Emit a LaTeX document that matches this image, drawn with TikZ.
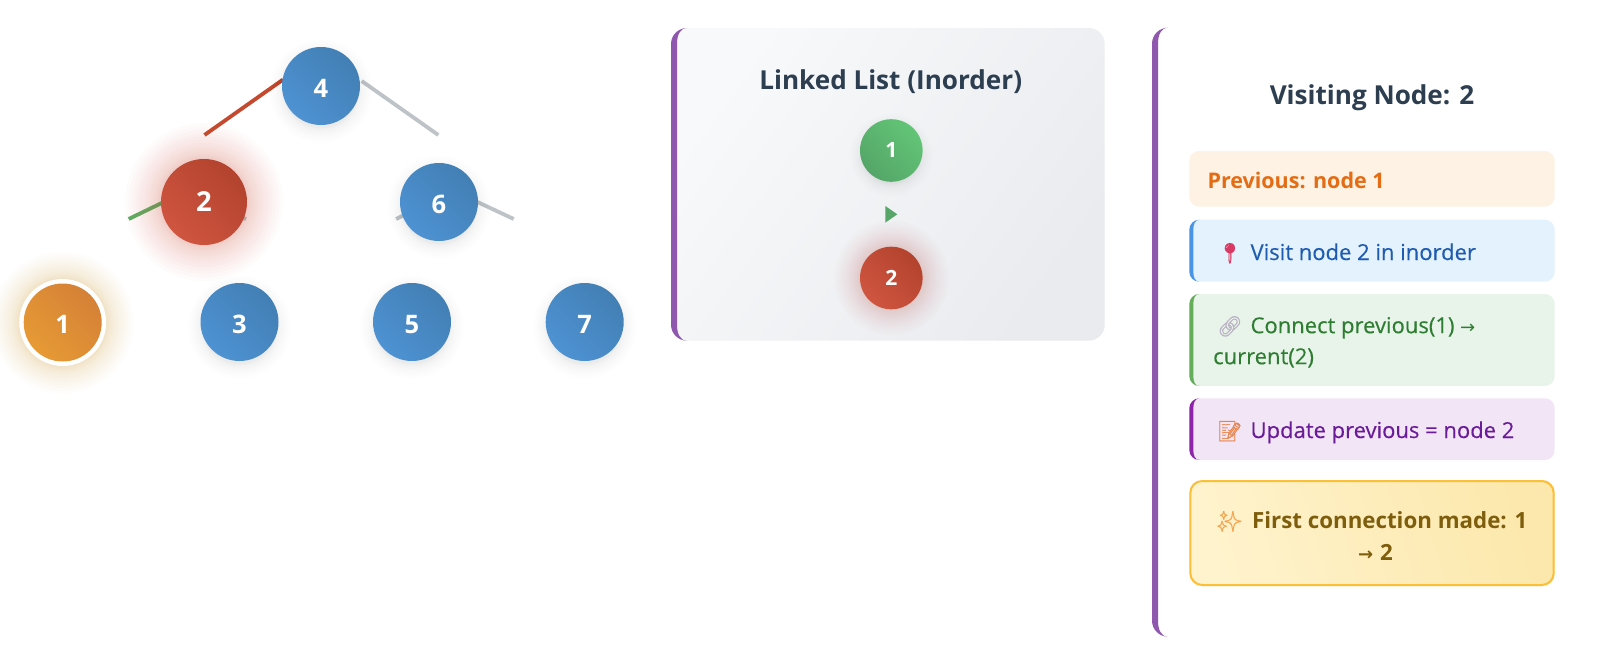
\documentclass[tikz,border=0pt]{standalone}
\usepackage{fontspec}
\setmainfont{Open Sans}
\newfontfamily\emojifont[FakeBold=0.6]{Noto Emoji}
\newfontfamily\arrowfont{DejaVu Sans}
\newfontfamily\mediumfont[FakeBold=0.25]{Open Sans}
\usetikzlibrary{calc}
\definecolor{blueA}{HTML}{4E92D3}
\definecolor{blueB}{HTML}{427FB4}
\definecolor{redA}{HTML}{CF5540}
\definecolor{redB}{HTML}{B3432E}
\definecolor{orgA}{HTML}{E69A34}
\definecolor{orgB}{HTML}{D58137}
\definecolor{grnA}{HTML}{55A668}
\definecolor{grnB}{HTML}{62C476}
\definecolor{purp}{HTML}{8F57AE}
\definecolor{edgegrey}{HTML}{BDC3C7}
\definecolor{edgered}{HTML}{C5492F}
\definecolor{edgegreen}{HTML}{5CAD63}
\definecolor{ink}{HTML}{2C3E50}
\definecolor{panelA}{HTML}{F8F9FA}
\definecolor{panelB}{HTML}{E9EBEF}
\definecolor{fillPrev}{HTML}{FDF2E3}
\definecolor{fillVisit}{HTML}{E3F2FD}
\definecolor{fillConn}{HTML}{E8F4E9}
\definecolor{fillUpd}{HTML}{F2E5F5}
\definecolor{firstA}{HTML}{FFF3CD}
\definecolor{firstB}{HTML}{FCE8AC}
\definecolor{firstEdge}{HTML}{FBBF3A}
\definecolor{barVisit}{HTML}{4A94E6}
\definecolor{barConn}{HTML}{66AD5B}
\definecolor{barUpd}{HTML}{8E24AA}
\definecolor{txtPrev}{HTML}{E36C14}
\definecolor{txtVisit}{HTML}{1F5BB0}
\definecolor{txtConn}{HTML}{2E7D32}
\definecolor{txtUpd}{HTML}{6A1B9A}
\definecolor{txtFirst}{HTML}{7E5D0C}
\definecolor{emoPin}{HTML}{D93A63}
\definecolor{emoLink}{HTML}{B9B0C4}
\definecolor{emoPad}{HTML}{E8834A}
\definecolor{emoStar}{HTML}{F7A24B}
\newcommand{\softglow}[6]{%
  \foreach \i in {1,...,20}{%
    \fill[#5,opacity=#6/20] (#1,#2) circle ({#3+#4*pow(\i/20,2)});
  }}
\newcommand{\leftbar}[6]{%
  \fill[#6] ({#1+#5},#2) .. controls ({#1+.45*#5},#2) and (#1,{#2+.45*#5}) .. (#1,{#2+#5})
    -- (#1,{#3-#5}) .. controls (#1,{#3-.45*#5}) and ({#1+.45*#5},#3) .. ({#1+#5},#3)
    .. controls ({#1+#4+.3*(#5-#4)},#3) and ({#1+#4},{#3-.45*#5}) .. ({#1+#4},{#3-#5})
    -- ({#1+#4},{#2+#5}) .. controls ({#1+#4},{#2+.45*#5}) and ({#1+#4+.3*(#5-#4)},#2) .. ({#1+#5},#2) -- cycle;}
\newcommand{\emo}[2]{\textcolor{#1}{\emojifont\fontsize{20}{20}\selectfont #2}}
\newcommand{\arr}{{\arrowfont\fontsize{18}{18}\selectfont →}}
\tikzset{
  x=1pt,y=-1pt,
  disc/.style n args={3}{circle,inner sep=0pt,minimum size=#1,text=white,left color=#2,right color=#3,shading angle=135},
  bluedisc/.style={disc={78pt}{blueA}{blueB},text height=22pt,text depth=0pt,font=\fontsize{25.5}{25.5}\selectfont\bfseries},
  edgeline/.style={line width=3.8pt,line cap=butt},
  stepfill/.style={rounded corners=10pt},
  steptext/.style={inner sep=0pt,font=\fontsize{22}{31}\selectfont\mediumfont},
  headtext/.style={inner sep=0pt,text=ink,font=\fontsize{26.1}{26.1}\selectfont\bfseries}
}
\begin{document}
\begin{tikzpicture}
\path[use as bounding box,fill=white] (0,0) rectangle (1600,659);
% free ends of the connectors
\coordinate (a42) at (283,79.6);
\coordinate (b42) at (204.5,135);
\coordinate (a46) at (361.7,81);
\coordinate (b46) at (438.3,135);
\coordinate (a21) at (170,199);
\coordinate (b21) at (128.7,219);
\coordinate (a23) at (230,211);
\coordinate (b23) at (246,219);
\coordinate (a65) at (412,211);
\coordinate (b65) at (396,219);
\coordinate (a67) at (470,198.5);
\coordinate (b67) at (513.7,219);
\draw[edgeline,edgered] (a42) -- (b42);
\draw[edgeline,edgegrey] (a46) -- (b46);
\draw[edgeline,edgegreen] (a21) -- (b21);
\draw[edgeline,edgegrey] (a23) -- (b23);
\draw[edgeline,edgegrey] (a65) -- (b65);
\draw[edgeline,edgegrey] (a67) -- (b67);
% shadows and glows
\softglow{321}{91}{37}{15}{black}{.11}
\softglow{439}{207}{37}{15}{black}{.11}
\softglow{239.5}{327}{37}{15}{black}{.11}
\softglow{412}{327}{37}{15}{black}{.11}
\softglow{584.7}{327}{37}{15}{black}{.11}
\softglow{204}{202}{41}{38}{redA}{.42}
\softglow{62.7}{322.5}{41}{30}{orgA}{.38}
% tree nodes
\node[bluedisc] (n4) at (321,86) {4};
\node[disc={86pt}{redA}{redB},font=\fontsize{27.5}{27.5}\selectfont\bfseries] (n2) at (204,202) {2};
\node[bluedisc] (n6) at (439,202) {6};
\node[circle,fill=white,inner sep=0pt,minimum size=87pt] (n1ring) at (62.7,322.5) {};
\node[disc={78pt}{orgA}{orgB},text height=22pt,text depth=0pt,font=\fontsize{25.5}{25.5}\selectfont\bfseries] (n1) at (62.7,322.5) {1};
\node[bluedisc] (n3) at (239.5,322) {3};
\node[bluedisc] (n5) at (412,322) {5};
\node[bluedisc] (n7) at (584.7,322) {7};
% linked list panel
\shade[rounded corners=16pt,left color=panelA,right color=panelB,shading angle=54] (671,28) rectangle (1104.7,340.7);
\leftbar{671}{28}{340.7}{6}{16}{purp}
\node[headtext,anchor=base] (listtitle) at (890.7,89) {Linked List (Inorder)};
\softglow{891.3}{155}{29}{13}{black}{.10}
\softglow{891.3}{278}{29}{28}{redA}{.34}
\node[disc={62.6pt}{grnA}{grnB},font=\fontsize{21}{21}\selectfont\bfseries] (l1) at (891.3,150.5) {1};
\node[disc={62.6pt}{redA}{redB},font=\fontsize{21}{21}\selectfont\bfseries] (l2) at (891.3,278) {2};
\fill[grnA] (885.3,206) -- (897.3,214.3) -- (885.3,222.7) -- cycle;
% explanation panel
\leftbar{1152}{27.7}{636.7}{6}{16}{purp}
\node[headtext,anchor=base] (infotitle) at (1372,104.3) {Visiting Node: 2};
\fill[fillPrev,stepfill] (1189.3,151) rectangle (1554.7,206.7);
\node[steptext,anchor=base west,text=txtPrev,font=\fontsize{21.5}{31}\selectfont\bfseries] (prev) at (1207.3,188.3) {Previous: node 1};
\fill[fillVisit,stepfill] (1189.3,219.7) rectangle (1554.7,281.7);
\leftbar{1189.3}{219.7}{281.7}{4}{10}{barVisit}
\node[steptext,anchor=base west,text=txtVisit] (visit) at (1217,260) {\emo{emoPin}{📍}\hspace{8pt}Visit node 2 in inorder};
\fill[fillConn,stepfill] (1189.3,294) rectangle (1554.7,386);
\leftbar{1189.3}{294}{386}{4}{10}{barConn}
\node[steptext,anchor=north west,align=left,text=txtConn] (conn) at (1213,316) {\hspace*{4pt}\emo{emoLink}{🔗}\hspace{8pt}Connect previous(1) \arr\\current(2)};
\fill[fillUpd,stepfill] (1189.3,398.3) rectangle (1554.7,460);
\leftbar{1189.3}{398.3}{460}{4}{10}{barUpd}
\node[steptext,anchor=base west,text=txtUpd] (upd) at (1217,438) {\emo{emoPad}{📝}\hspace{8pt}Update previous = node 2};
\shade[rounded corners=12pt,left color=firstA,right color=firstB,shading angle=106] (1189.3,480) rectangle (1554.7,586);
\draw[firstEdge,line width=2pt,rounded corners=12pt] (1190.3,481) rectangle (1553.7,585);
\node[steptext,anchor=north,align=center,text=txtFirst,font=\fontsize{22.3}{32}\selectfont\bfseries] (first) at (1372,511) {\emo{emoStar}{✨}\hspace{10pt}First connection made: 1\\\hspace*{7pt}\arr\hspace{7pt}2};
\end{tikzpicture}
\end{document}
